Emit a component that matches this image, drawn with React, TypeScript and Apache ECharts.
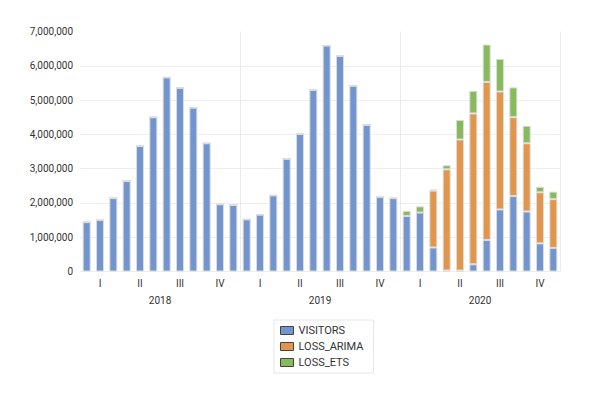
import React, { useEffect, useRef } from "react";
import * as echarts from "echarts";

const months = [
  "2018-01","2018-02","2018-03","2018-04","2018-05","2018-06","2018-07","2018-08","2018-09","2018-10","2018-11","2018-12",
  "2019-01","2019-02","2019-03","2019-04","2019-05","2019-06","2019-07","2019-08","2019-09","2019-10","2019-11","2019-12",
  "2020-01","2020-02","2020-03","2020-04","2020-05","2020-06","2020-07","2020-08","2020-09","2020-10","2020-11","2020-12",
];
const quarterLabels: Record<number, string> = { 1: "I", 4: "II", 7: "III", 10: "IV" };
const years = ["2018", "2019", "2020"];

const visitors = [
  1440000, 1500000, 2140000, 2640000, 3660000, 4500000, 5660000, 5360000, 4780000, 3740000, 1960000, 1940000,
  1520000, 1660000, 2220000, 3290000, 4010000, 5300000, 6590000, 6290000, 5420000, 4280000, 2180000, 2140000,
  1620000, 1720000, 700000, 30000, 30000, 210000, 920000, 1810000, 2200000, 1750000, 820000, 690000,
];
const lossArima = [
  0, 0, 0, 0, 0, 0, 0, 0, 0, 0, 0, 0,
  0, 0, 0, 0, 0, 0, 0, 0, 0, 0, 0, 0,
  0, 0, 1660000, 2950000, 3820000, 4400000, 4610000, 3440000, 2300000, 1990000, 1490000, 1420000,
];
const lossEts = [
  0, 0, 0, 0, 0, 0, 0, 0, 0, 0, 0, 0,
  0, 0, 0, 0, 0, 0, 0, 0, 0, 0, 0, 0,
  150000, 180000, 30000, 120000, 570000, 660000, 1090000, 950000, 870000, 510000, 160000, 220000,
];

const FONT = "Roboto";

export default function App() {
  const ref = useRef<HTMLDivElement>(null);
  useEffect(() => {
    if (!ref.current) return;
    const chart = echarts.init(ref.current, null, { renderer: "svg" });
    const barStyle = (color: string) => ({ color, borderColor: "#dcdcdc", borderWidth: 1 });
    chart.setOption({
      animation: false,
      textStyle: { fontFamily: FONT },
      grid: { left: 80, right: 40, top: 31.5, bottom: 125.5 },
      legend: {
        orient: "vertical",
        left: 274,
        top: 320,
        icon: "rect",
        borderColor: "#e6e6e6",
        borderWidth: 1,
        padding: [5, 10, 5, 6],
        itemWidth: 13,
        itemHeight: 8,
        itemGap: 5,
        textStyle: { fontFamily: FONT, fontSize: 11, color: "#333" },
        itemStyle: { borderColor: "#444", borderWidth: 1 },
        data: ["VISITORS", "LOSS_ARIMA", "LOSS_ETS"],
      },
      xAxis: [
        {
          type: "category",
          data: months,
          axisLine: { show: false },
          axisTick: { show: false },
          axisLabel: {
            interval: 0,
            margin: 7,
            fontSize: 10,
            color: "#333",
            fontFamily: FONT,
            formatter: (_v: string, i: number) => quarterLabels[i % 12] || "",
          },
          splitLine: {
            show: true,
            interval: (i: number) => i === 12 || i === 24,
            lineStyle: { color: "#ebebeb", width: 1 },
          },
        },
        {
          type: "category",
          data: years,
          position: "bottom",
          offset: 17,
          axisLine: { show: false },
          axisTick: { show: false },
          splitLine: { show: false },
          axisLabel: { margin: 7, fontSize: 10, color: "#333", fontFamily: FONT },
        },
      ],
      yAxis: {
        type: "value",
        min: 0,
        max: 7000000,
        interval: 1000000,
        axisLine: { show: false },
        axisTick: { show: false },
        axisLabel: {
          margin: 7,
          fontSize: 10,
          color: "#333",
          fontFamily: FONT,
          formatter: (v: number) => v.toLocaleString("en-US"),
        },
        splitLine: { show: true, showMaxLine: false, lineStyle: { color: "#efefef", width: 1 } },
      },
      series: [
        { name: "VISITORS", type: "bar", stack: "t", data: visitors, barWidth: 8, itemStyle: barStyle("#7295cd") },
        { name: "LOSS_ARIMA", type: "bar", stack: "t", data: lossArima, barWidth: 8, itemStyle: barStyle("#e2964c") },
        { name: "LOSS_ETS", type: "bar", stack: "t", data: lossEts, barWidth: 8, itemStyle: barStyle("#87ba5b") },
      ],
    });
    return () => chart.dispose();
  }, []);
  return <div ref={ref} style={{ width: 600, height: 397, position: "absolute", left: 0, top: 0 }} />;
}
